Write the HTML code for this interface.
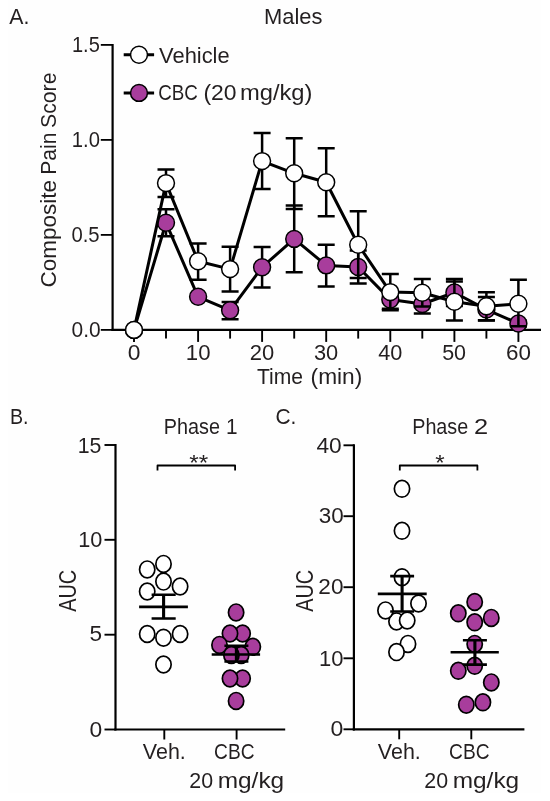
<!DOCTYPE html>
<html lang="en"><head><meta charset="utf-8"><title>Figure</title>
<style>
html,body{margin:0;padding:0;background:#fff;}
svg{display:block;}
text{font-family:"Liberation Sans",sans-serif;fill:#231F20;}
</style></head><body>
<svg width="550" height="801" viewBox="0 0 550 801">
<rect width="550" height="801" fill="#fff"/>
<rect x="8" y="0" width="533" height="793" fill="#fefefe"/>
<g stroke="#000" stroke-width="2.2" fill="none" stroke-linecap="butt">
<path d="M112.6 43.9V331.0"/>
<path d="M111.5 329.9H541"/>
<path d="M100.8 329.9H112.6" stroke-width="1.8"/>
<path d="M100.8 234.9H112.6" stroke-width="1.8"/>
<path d="M100.8 139.9H112.6" stroke-width="1.8"/>
<path d="M100.8 44.9H112.6" stroke-width="1.8"/>
<path d="M134.0 329.9V341.9" stroke-width="1.9"/>
<path d="M166.0 329.9V338.6" stroke-width="1.9"/>
<path d="M198.1 329.9V341.9" stroke-width="1.9"/>
<path d="M230.1 329.9V338.6" stroke-width="1.9"/>
<path d="M262.1 329.9V341.9" stroke-width="1.9"/>
<path d="M294.2 329.9V338.6" stroke-width="1.9"/>
<path d="M326.2 329.9V341.9" stroke-width="1.9"/>
<path d="M358.2 329.9V338.6" stroke-width="1.9"/>
<path d="M390.3 329.9V341.9" stroke-width="1.9"/>
<path d="M422.3 329.9V338.6" stroke-width="1.9"/>
<path d="M454.4 329.9V341.9" stroke-width="1.9"/>
<path d="M486.4 329.9V338.6" stroke-width="1.9"/>
<path d="M518.4 329.9V341.9" stroke-width="1.9"/>
</g>
<g stroke="#000" stroke-width="2.2" fill="none">
<path d="M166.0 209.3V236.2M157.5 209.3h17M157.5 236.2h17" stroke-width="2.5"/>
<path d="M230.1 301.9V319.2M221.6 301.9h17M221.6 319.2h17" stroke-width="2.5"/>
<path d="M262.1 247.1V287.5M253.6 247.1h17M253.6 287.5h17" stroke-width="2.5"/>
<path d="M294.2 205.4V272.3M285.7 205.4h17M285.7 272.3h17" stroke-width="2.5"/>
<path d="M326.2 244.8V286.4M317.7 244.8h17M317.7 286.4h17" stroke-width="2.5"/>
<path d="M358.2 250.6V283.4M349.7 250.6h17M349.7 283.4h17" stroke-width="2.5"/>
<path d="M390.3 290.5V308.7M381.8 290.5h17M381.8 308.7h17" stroke-width="2.5"/>
<path d="M422.3 294.6V313.4M413.8 294.6h17M413.8 313.4h17" stroke-width="2.5"/>
<path d="M454.4 279.1V305.9M445.9 279.1h17M445.9 305.9h17" stroke-width="2.5"/>
<path d="M486.4 297.0V320.5M477.9 297.0h17M477.9 320.5h17" stroke-width="2.5"/>
<path d="M518.4 320.8V326.1M509.9 320.8h17M509.9 326.1h17" stroke-width="2.5"/>
<polyline points="134.0,329.9 166.0,222.8 198.1,296.8 230.1,310.3 262.1,267.2 294.2,238.9 326.2,265.4 358.2,267 390.3,299.6 422.3,304.0 454.4,292.5 486.4,309.6 518.4,323.5" stroke-linejoin="round" stroke-width="3"/>
<circle cx="134.0" cy="329.9" r="8.45" fill="#A83D9C" stroke-width="1.5"/>
<circle cx="166.0" cy="222.8" r="8.45" fill="#A83D9C" stroke-width="1.5"/>
<circle cx="198.1" cy="296.8" r="8.45" fill="#A83D9C" stroke-width="1.5"/>
<circle cx="230.1" cy="310.3" r="8.45" fill="#A83D9C" stroke-width="1.5"/>
<circle cx="262.1" cy="267.2" r="8.45" fill="#A83D9C" stroke-width="1.5"/>
<circle cx="294.2" cy="238.9" r="8.45" fill="#A83D9C" stroke-width="1.5"/>
<circle cx="326.2" cy="265.4" r="8.45" fill="#A83D9C" stroke-width="1.5"/>
<circle cx="358.2" cy="267" r="8.45" fill="#A83D9C" stroke-width="1.5"/>
<circle cx="390.3" cy="299.6" r="8.45" fill="#A83D9C" stroke-width="1.5"/>
<circle cx="422.3" cy="304.0" r="8.45" fill="#A83D9C" stroke-width="1.5"/>
<circle cx="454.4" cy="292.5" r="8.45" fill="#A83D9C" stroke-width="1.5"/>
<circle cx="486.4" cy="309.6" r="8.45" fill="#A83D9C" stroke-width="1.5"/>
<circle cx="518.4" cy="323.5" r="8.45" fill="#A83D9C" stroke-width="1.5"/>
</g>
<g stroke="#000" stroke-width="2.2" fill="none">
<path d="M166.0 169.6V197.1M157.5 169.6h17M157.5 197.1h17" stroke-width="2.5"/>
<path d="M198.1 243.6V279.8M189.6 243.6h17M189.6 279.8h17" stroke-width="2.5"/>
<path d="M230.1 246.7V291.5M221.6 246.7h17M221.6 291.5h17" stroke-width="2.5"/>
<path d="M262.1 133.1V189.1M253.6 133.1h17M253.6 189.1h17" stroke-width="2.5"/>
<path d="M294.2 138.2V209.1M285.7 138.2h17M285.7 209.1h17" stroke-width="2.5"/>
<path d="M326.2 148.3V216.3M317.7 148.3h17M317.7 216.3h17" stroke-width="2.5"/>
<path d="M358.2 211.3V278.1M349.7 211.3h17M349.7 278.1h17" stroke-width="2.5"/>
<path d="M390.3 273.9V310.2M381.8 273.9h17M381.8 310.2h17" stroke-width="2.5"/>
<path d="M422.3 278.9V306.5M413.8 278.9h17M413.8 306.5h17" stroke-width="2.5"/>
<path d="M454.4 281.6V320.6M445.9 281.6h17M445.9 320.6h17" stroke-width="2.5"/>
<path d="M486.4 292.3V320.3M477.9 292.3h17M477.9 320.3h17" stroke-width="2.5"/>
<path d="M518.4 279.7V326.3M509.9 279.7h17M509.9 326.3h17" stroke-width="2.5"/>
<polyline points="134.0,329.9 166.0,183.1 198.1,261.2 230.1,269.1 262.1,161.1 294.2,173.3 326.2,182.2 358.2,244.7 390.3,292.1 422.3,292.7 454.4,301.7 486.4,306.3 518.4,303.7" stroke-linejoin="round" stroke-width="3"/>
<circle cx="134.0" cy="329.9" r="8.45" fill="#fff" stroke-width="1.5"/>
<circle cx="166.0" cy="183.1" r="8.45" fill="#fff" stroke-width="1.5"/>
<circle cx="198.1" cy="261.2" r="8.45" fill="#fff" stroke-width="1.5"/>
<circle cx="230.1" cy="269.1" r="8.45" fill="#fff" stroke-width="1.5"/>
<circle cx="262.1" cy="161.1" r="8.45" fill="#fff" stroke-width="1.5"/>
<circle cx="294.2" cy="173.3" r="8.45" fill="#fff" stroke-width="1.5"/>
<circle cx="326.2" cy="182.2" r="8.45" fill="#fff" stroke-width="1.5"/>
<circle cx="358.2" cy="244.7" r="8.45" fill="#fff" stroke-width="1.5"/>
<circle cx="390.3" cy="292.1" r="8.45" fill="#fff" stroke-width="1.5"/>
<circle cx="422.3" cy="292.7" r="8.45" fill="#fff" stroke-width="1.5"/>
<circle cx="454.4" cy="301.7" r="8.45" fill="#fff" stroke-width="1.5"/>
<circle cx="486.4" cy="306.3" r="8.45" fill="#fff" stroke-width="1.5"/>
<circle cx="518.4" cy="303.7" r="8.45" fill="#fff" stroke-width="1.5"/>
</g>
<g stroke="#000" stroke-width="2.2">
<path d="M123.7 54.8H154.1M123.7 92.9H154.1" stroke-width="3"/>
<circle cx="139" cy="54.8" r="8.45" fill="#fff" stroke-width="1.5"/>
<circle cx="139" cy="92.9" r="8.45" fill="#A83D9C" stroke-width="1.5"/>
</g>
<g stroke="#000" stroke-width="2.2" fill="none">
<path d="M115.5 443.9V730.6"/>
<path d="M114.4 729.5H285.2"/>
<path d="M104.5 445.0H115.5" stroke-width="1.9"/>
<path d="M104.5 539.8H115.5" stroke-width="1.9"/>
<path d="M104.5 634.7H115.5" stroke-width="1.9"/>
<path d="M104.5 729.5H115.5" stroke-width="1.9"/>
<path d="M164.3 729.5V739.5" stroke-width="1.9"/>
<path d="M236.6 729.5V739.5" stroke-width="1.9"/>
</g>
<g stroke="#000" stroke-width="2.2" fill="none">
<path d="M353.9 444.2V730.4"/>
<path d="M352.79999999999995 729.3H524.4"/>
<path d="M343.5 445.3H353.9" stroke-width="1.9"/>
<path d="M343.5 516.2H353.9" stroke-width="1.9"/>
<path d="M343.5 587.2H353.9" stroke-width="1.9"/>
<path d="M343.5 658.3H353.9" stroke-width="1.9"/>
<path d="M343.5 729.3H353.9" stroke-width="1.9"/>
<path d="M399.2 729.3V739.3" stroke-width="1.9"/>
<path d="M471.3 729.3V739.3" stroke-width="1.9"/>
</g>
<g stroke="#000" stroke-width="1.7" fill="#fff">
<ellipse cx="147.2" cy="569.4" rx="7.65" ry="8.4"/>
<ellipse cx="163.5" cy="563.9" rx="7.65" ry="8.4"/>
<ellipse cx="163.5" cy="581.6" rx="7.65" ry="8.4"/>
<ellipse cx="180.1" cy="586.5" rx="7.65" ry="8.4"/>
<ellipse cx="147.2" cy="591.5" rx="7.65" ry="8.4"/>
<ellipse cx="147.2" cy="634" rx="7.65" ry="8.4"/>
<ellipse cx="163.5" cy="637.7" rx="7.65" ry="8.4"/>
<ellipse cx="180.1" cy="634" rx="7.65" ry="8.4"/>
<ellipse cx="163.5" cy="664.5" rx="7.65" ry="8.4"/>
</g>
<g stroke="#000" stroke-width="2.6" fill="none">
<path d="M139.1 606.9H187.9M151.6 594.7H175.7M151.6 618.5H175.7"/><path d="M163.6 594.7V618.5" stroke-width="3.1"/>
</g>
<g stroke="#000" stroke-width="1.7" fill="#A83D9C">
<ellipse cx="236.1" cy="612.4" rx="7.65" ry="8.4"/>
<ellipse cx="242.6" cy="633.5" rx="7.65" ry="8.4"/>
<ellipse cx="230" cy="633.5" rx="7.65" ry="8.4"/>
<ellipse cx="219.5" cy="644.9" rx="7.65" ry="8.4"/>
<ellipse cx="252.8" cy="646.8" rx="7.65" ry="8.4"/>
<ellipse cx="241.2" cy="655" rx="7.65" ry="8.4"/>
<ellipse cx="231.4" cy="655" rx="7.65" ry="8.4"/>
<ellipse cx="242.6" cy="678.5" rx="7.65" ry="8.4"/>
<ellipse cx="230" cy="678.5" rx="7.65" ry="8.4"/>
<ellipse cx="236.1" cy="700.9" rx="7.65" ry="8.4"/>
</g>
<g stroke="#000" stroke-width="2.6" fill="none">
<path d="M211.7 654.5H260.1M224.4 645.7H248.4M224.4 661.5H248.4"/><path d="M236.4 645.7V661.5" stroke-width="3.1"/>
</g>
<g stroke="#000" stroke-width="1.7" fill="#fff">
<ellipse cx="402" cy="488.8" rx="7.65" ry="8.4"/>
<ellipse cx="402" cy="530.8" rx="7.65" ry="8.4"/>
<ellipse cx="402" cy="577.2" rx="7.65" ry="8.4"/>
<ellipse cx="418.5" cy="603.5" rx="7.65" ry="8.4"/>
<ellipse cx="396.5" cy="621.4" rx="7.65" ry="8.4"/>
<ellipse cx="385.5" cy="610.4" rx="7.65" ry="8.4"/>
<ellipse cx="407.2" cy="620.5" rx="7.65" ry="8.4"/>
<ellipse cx="408" cy="643.9" rx="7.65" ry="8.4"/>
<ellipse cx="396.5" cy="652.1" rx="7.65" ry="8.4"/>
</g>
<g stroke="#000" stroke-width="2.6" fill="none">
<path d="M377.8 593.9H426.7M390.2 576.1H414.1M390.2 611.5H414.1"/><path d="M402.1 576.1V611.5" stroke-width="3.1"/>
</g>
<g stroke="#000" stroke-width="1.7" fill="#A83D9C">
<ellipse cx="474.7" cy="602" rx="7.65" ry="8.4"/>
<ellipse cx="458.3" cy="613.3" rx="7.65" ry="8.4"/>
<ellipse cx="491.3" cy="617.9" rx="7.65" ry="8.4"/>
<ellipse cx="474.7" cy="622.3" rx="7.65" ry="8.4"/>
<ellipse cx="474.7" cy="643.9" rx="7.65" ry="8.4"/>
<ellipse cx="474.7" cy="665.8" rx="7.65" ry="8.4"/>
<ellipse cx="458.3" cy="670.8" rx="7.65" ry="8.4"/>
<ellipse cx="491.3" cy="682.4" rx="7.65" ry="8.4"/>
<ellipse cx="482.9" cy="702.3" rx="7.65" ry="8.4"/>
<ellipse cx="466.3" cy="704.7" rx="7.65" ry="8.4"/>
</g>
<g stroke="#000" stroke-width="2.6" fill="none">
<path d="M450.6 652.2H498.8M462.9 640.3H486.9M462.9 664.6H486.9"/><path d="M474.9 640.3V664.6" stroke-width="3.1"/>
</g>
<g stroke="#000" stroke-width="1.8" fill="none" stroke-linejoin="round">
<path d="M157.5 470.6V465.5H235.1V470.6"/>
<path d="M399.8 470.6V465.5H477.4V470.6"/>
</g>
<text x="9.23" y="24.2" font-size="22.3" textLength="20.09" lengthAdjust="spacingAndGlyphs" >A.</text>
<text x="264.06" y="24.4" font-size="22.3" textLength="58.45" lengthAdjust="spacingAndGlyphs" >Males</text>
<text x="159.09" y="62.6" font-size="22.3" textLength="70.57" lengthAdjust="spacingAndGlyphs" >Vehicle</text>
<text x="158.26" y="100.2" font-size="22.3" textLength="39.61" lengthAdjust="spacingAndGlyphs" >CBC</text>
<text x="203.43" y="100.2" font-size="22.3" textLength="33.14" lengthAdjust="spacingAndGlyphs" >(20</text>
<text x="239.91" y="100.2" font-size="22.3" textLength="72.6" lengthAdjust="spacingAndGlyphs" >mg/kg)</text>
<text x="71.96" y="51.6" font-size="22.3" textLength="27.88" lengthAdjust="spacingAndGlyphs" >1.5</text>
<text x="71.87" y="146.6" font-size="22.3" textLength="28.15" lengthAdjust="spacingAndGlyphs" >1.0</text>
<text x="71.45" y="241.6" font-size="22.3" textLength="28.21" lengthAdjust="spacingAndGlyphs" >0.5</text>
<text x="71.54" y="336.5" font-size="22.3" textLength="29.11" lengthAdjust="spacingAndGlyphs" >0.0</text>
<text x="127.87" y="360.0" font-size="22.3" textLength="12.7" lengthAdjust="spacingAndGlyphs" >0</text>
<text x="185.8" y="360.0" font-size="22.3" textLength="24.69" lengthAdjust="spacingAndGlyphs" >10</text>
<text x="249.87" y="360.0" font-size="22.3" textLength="24.44" lengthAdjust="spacingAndGlyphs" >20</text>
<text x="313.97" y="360.0" font-size="22.3" textLength="24.29" lengthAdjust="spacingAndGlyphs" >30</text>
<text x="378.27" y="360.0" font-size="22.3" textLength="24.17" lengthAdjust="spacingAndGlyphs" >40</text>
<text x="442.2" y="360.0" font-size="22.3" textLength="23.88" lengthAdjust="spacingAndGlyphs" >50</text>
<text x="505.95" y="360.0" font-size="22.3" textLength="24.94" lengthAdjust="spacingAndGlyphs" >60</text>
<text x="256.99" y="383.9" font-size="22.3" textLength="46.11" lengthAdjust="spacingAndGlyphs" >Time</text>
<text x="310.59" y="383.9" font-size="22.3" textLength="51.7" lengthAdjust="spacingAndGlyphs" >(min)</text>
<text x="9.97" y="423.9" font-size="22.3" textLength="18.58" lengthAdjust="spacingAndGlyphs" >B.</text>
<text x="275.41" y="424.2" font-size="22.3" textLength="20.93" lengthAdjust="spacingAndGlyphs" >C.</text>
<text x="163.85" y="433.6" font-size="22.3" textLength="56.19" lengthAdjust="spacingAndGlyphs" >Phase</text>
<text x="226.1" y="433.6" font-size="22.3" textLength="11.56" lengthAdjust="spacingAndGlyphs" >1</text>
<text x="412.23" y="433.6" font-size="22.3" textLength="55.98" lengthAdjust="spacingAndGlyphs" >Phase</text>
<text x="474.13" y="433.6" font-size="22.3" textLength="14.14" lengthAdjust="spacingAndGlyphs" >2</text>
<text x="77.76" y="453.0" font-size="22.3" textLength="23.71" lengthAdjust="spacingAndGlyphs" >15</text>
<text x="78.15" y="547.4" font-size="22.3" textLength="24.17" lengthAdjust="spacingAndGlyphs" >10</text>
<text x="89.4" y="640.9" font-size="22.3" textLength="12.59" lengthAdjust="spacingAndGlyphs" >5</text>
<text x="89.4" y="737.3" font-size="22.3" textLength="12.71" lengthAdjust="spacingAndGlyphs" >0</text>
<text x="316.4" y="452.9" font-size="22.3" textLength="25.3" lengthAdjust="spacingAndGlyphs" >40</text>
<text x="318.67" y="522.9" font-size="22.3" textLength="24.98" lengthAdjust="spacingAndGlyphs" >30</text>
<text x="318.33" y="593.9" font-size="22.3" textLength="25.13" lengthAdjust="spacingAndGlyphs" >20</text>
<text x="319.1" y="665.6" font-size="22.3" textLength="24.46" lengthAdjust="spacingAndGlyphs" >10</text>
<text x="330.6" y="735.6" font-size="22.3" textLength="12.81" lengthAdjust="spacingAndGlyphs" >0</text>
<text x="142.86" y="758.5" font-size="22.3" textLength="42.92" lengthAdjust="spacingAndGlyphs" >Veh.</text>
<text x="214.1" y="758.5" font-size="22.3" textLength="40.42" lengthAdjust="spacingAndGlyphs" >CBC</text>
<text x="189.25" y="787.8" font-size="22.3" textLength="23.8" lengthAdjust="spacingAndGlyphs" >20</text>
<text x="217.66" y="787.8" font-size="22.3" textLength="66.55" lengthAdjust="spacingAndGlyphs" >mg/kg</text>
<text x="377.86" y="758.5" font-size="22.3" textLength="42.92" lengthAdjust="spacingAndGlyphs" >Veh.</text>
<text x="449.1" y="758.5" font-size="22.3" textLength="40.42" lengthAdjust="spacingAndGlyphs" >CBC</text>
<text x="424.25" y="787.8" font-size="22.3" textLength="23.8" lengthAdjust="spacingAndGlyphs" >20</text>
<text x="452.66" y="787.8" font-size="22.3" textLength="66.55" lengthAdjust="spacingAndGlyphs" >mg/kg</text>
<text x="189.21" y="470.1" font-size="22" textLength="18.89" lengthAdjust="spacingAndGlyphs" >**</text>
<text x="435.21" y="470.1" font-size="22" textLength="9.4" lengthAdjust="spacingAndGlyphs" >*</text>
<text x="55.9" y="287.46" font-size="22.3" textLength="107.54" lengthAdjust="spacingAndGlyphs" transform="rotate(-90 55.9 287.46)" >Composite</text>
<text x="55.9" y="174.71" font-size="22.3" textLength="42.08" lengthAdjust="spacingAndGlyphs" transform="rotate(-90 55.9 174.71)" >Pain</text>
<text x="55.9" y="128.02" font-size="22.3" textLength="55.53" lengthAdjust="spacingAndGlyphs" transform="rotate(-90 55.9 128.02)" >Score</text>
<text x="76.0" y="611.86" font-size="23.5" textLength="42.06" lengthAdjust="spacingAndGlyphs" transform="rotate(-90 76.0 611.86)" >AUC</text>
<text x="312.7" y="611.86" font-size="23.5" textLength="42.06" lengthAdjust="spacingAndGlyphs" transform="rotate(-90 312.7 611.86)" >AUC</text>
</svg>
</body></html>
